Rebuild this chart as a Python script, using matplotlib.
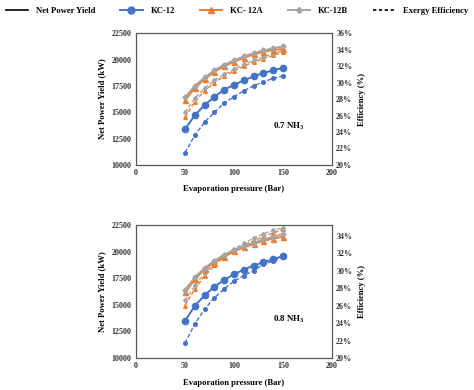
import matplotlib.pyplot as plt
from matplotlib.lines import Line2D
from matplotlib.ticker import PercentFormatter

plt.rcParams['font.family'] = ['Liberation Serif', 'DejaVu Serif']
plt.rcParams['font.weight'] = 'bold'
plt.rcParams['mathtext.fontset'] = 'custom'
plt.rcParams['mathtext.rm'] = 'Liberation Serif:bold'
plt.rcParams['mathtext.it'] = 'Liberation Serif:bold'
plt.rcParams['mathtext.bf'] = 'Liberation Serif:bold'

# pressao de evaporacao (bar)
pressao = [50, 60, 70, 80, 90, 100, 110, 120, 130, 140, 150]

# 0.7 NH3 - potencia liquida (kW)
kc12_pot_07 = [13370, 14720, 15700, 16450, 17150, 17590, 18030, 18410, 18720, 18970, 19230]
kc12a_pot_07 = [16140, 17300, 18150, 18850, 19350, 19790, 20170, 20480, 20730, 20900, 21000]
kc12b_pot_07 = [16450, 17490, 18310, 18970, 19510, 19920, 20300, 20610, 20860, 21080, 21240]
# 0.7 NH3 - eficiencia exergetica (%)
kc12_ef_07 = [21.5, 23.6, 25.2, 26.4, 27.5, 28.3, 29.0, 29.6, 30.1, 30.5, 30.8]
kc12a_ef_07 = [25.8, 27.7, 29.0, 30.0, 30.8, 31.4, 32.0, 32.5, 32.9, 33.3, 33.7]
kc12b_ef_07 = [26.4, 28.1, 29.3, 30.3, 31.0, 31.6, 32.2, 32.7, 33.1, 33.5, 33.9]

# 0.8 NH3 - potencia liquida (kW)
kc12_pot_08 = [13500, 14900, 15900, 16720, 17340, 17880, 18310, 18690, 19000, 19280, 19590]
kc12a_pot_08 = [16160, 17400, 18340, 18970, 19530, 20030, 20400, 20720, 21030, 21220, 21400]
kc12b_pot_08 = [16400, 17590, 18470, 19150, 19720, 20150, 20530, 20840, 21150, 21400, 21650]
# 0.8 NH3 - eficiencia exergetica (%)
kc12_ef_08 = [21.7, 23.9, 25.6, 26.9, 27.9, 28.8, 29.4, 30.0, 30.7, 31.1, 31.6]
kc12a_ef_08 = [26.0, 27.9, 29.4, 30.6, 31.5, 32.2, 32.9, 33.4, 33.9, 34.3, 34.7]
kc12b_ef_08 = [26.6, 28.3, 29.7, 30.8, 31.7, 32.5, 33.1, 33.7, 34.2, 34.6, 34.9]

azul = '#4472C4'
laranja = '#ED7D31'
cinza = '#A5A5A5'
fs = 5.8


def desenha_painel(ax, pots, efs, rotulo, ef_max):
    estilos = [(azul, 'o', 4.5, 2.6), (laranja, '^', 3.6, 2.6), (cinza, 'D', 2.6, 2.0)]
    ax2 = ax.twinx()
    # Eficiencia (tracejado) no eixo da direita
    for ef, (cor, mk, ms, ms2) in zip(efs, estilos):
        ax2.plot(pressao, [e / 100 for e in ef], color=cor, marker=mk, markersize=ms2,
                 linestyle=(0, (3, 1.5)), linewidth=1.0)
    # Potencia (linha cheia) no eixo da esquerda
    for pot, (cor, mk, ms, ms2) in zip(pots, estilos):
        ax.plot(pressao, pot, color=cor, marker=mk, markersize=ms, linewidth=1.4)
    ax.set_zorder(ax2.get_zorder() + 1)
    ax.patch.set_visible(False)

    ax.set_xlim(0, 200)
    ax.set_ylim(10000, 22500)
    ax.set_xticks([0, 50, 100, 150, 200])
    ax.set_yticks([10000, 12500, 15000, 17500, 20000, 22500])
    ax2.set_ylim(0.20, ef_max)
    n = int((ef_max - 0.20) / 0.02 + 1e-6)
    ax2.set_yticks([0.20 + 0.02 * i for i in range(n + 1)])
    ax2.yaxis.set_major_formatter(PercentFormatter(1.0, decimals=0))

    for a in (ax, ax2):
        a.tick_params(length=0, labelsize=fs, pad=3, colors='#333333')
        for s in a.spines.values():
            s.set_color('#555555')
            s.set_linewidth(0.8)

    ax.set_xlabel('Evaporation pressure (Bar)', fontsize=fs + 0.4, fontweight='bold', labelpad=6)
    ax.set_ylabel('Net Power Yield (kW)', fontsize=fs + 0.4, fontweight='bold', labelpad=4)
    ax2.set_ylabel('Efficiency (%)', fontsize=fs + 0.4, fontweight='bold', labelpad=4)
    ax.text(0.78, 0.29, rotulo, transform=ax.transAxes, fontsize=fs + 0.6,
            fontweight='bold', ha='center', va='center')


fig = plt.figure(figsize=(4.74, 3.9), dpi=100)
ax_sup = fig.add_axes([0.287, 0.577, 0.4135, 0.338])
ax_inf = fig.add_axes([0.287, 0.082, 0.4135, 0.341])

desenha_painel(ax_sup, [kc12_pot_07, kc12a_pot_07, kc12b_pot_07],
               [kc12_ef_07, kc12a_ef_07, kc12b_ef_07], '0.7 NH$_3$', 0.36)
desenha_painel(ax_inf, [kc12_pot_08, kc12a_pot_08, kc12b_pot_08],
               [kc12_ef_08, kc12a_ef_08, kc12b_ef_08], '0.8 NH$_3$', 0.352)

# Legenda no topo
handles = [
    Line2D([], [], color='black', linewidth=1.2),
    Line2D([], [], color=azul, marker='o', markersize=5, linewidth=1.4),
    Line2D([], [], color=laranja, marker='^', markersize=5, linewidth=1.4),
    Line2D([], [], color=cinza, marker='D', markersize=3, linewidth=1.4),
    Line2D([], [], color='black', linestyle=(0, (2, 1.5)), linewidth=1.2),
]
nomes = ['Net Power Yield', 'KC-12', 'KC- 12A', 'KC-12B', 'Exergy Efficiency']
fig.legend(handles, nomes, loc='upper center', bbox_to_anchor=(0.5, 0.995), ncol=5,
           frameon=False, fontsize=6.2, handlelength=2.6, columnspacing=2.9,
           handletextpad=0.9, borderaxespad=0.2)

plt.savefig('out.png', dpi=100)
